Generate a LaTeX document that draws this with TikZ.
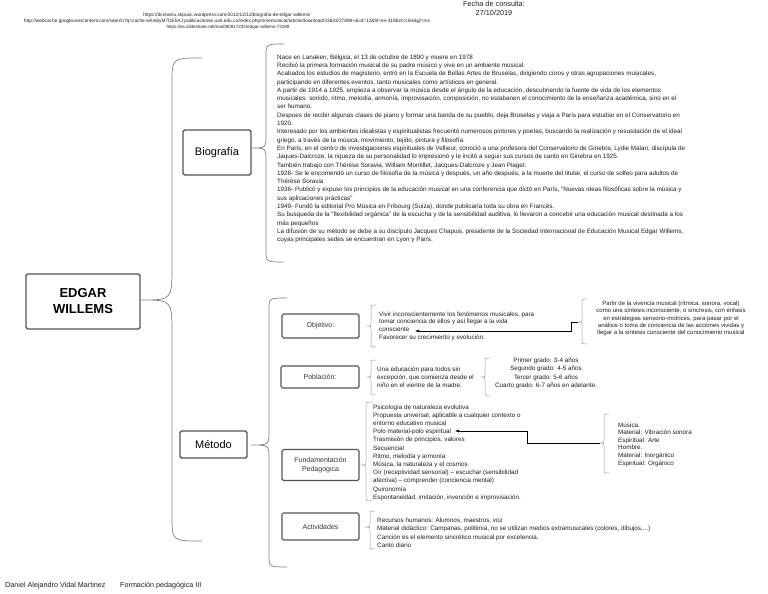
\documentclass[tikz,border=0pt]{standalone}
\usepackage{fontspec}
\setmainfont{Liberation Sans}
\usetikzlibrary{arrows.meta}
\definecolor{boxc}{HTML}{555555}
\definecolor{bracec}{HTML}{808080}
\definecolor{bracel}{HTML}{9A9A9A}
\definecolor{txt}{HTML}{1E1E1E}
\definecolor{labc}{HTML}{333333}
% #1 style, #2 x of ends, #3 y top, #4 x spine, #5 x tip, #6 y tip, #7 y bottom, #8 end radius, #9 tip radius
\newcommand{\cbrace}[9]{%
  \draw[#1] (#2,#3) .. controls (#4,#3) .. (#4,#3+#8) -- (#4,#6-#9)
    .. controls (#4,#6) .. (#5,#6) .. controls (#4,#6) .. (#4,#6+#9)
    -- (#4,#7-#8) .. controls (#4,#7) .. (#2,#7);}
\begin{document}
\begin{tikzpicture}[x=1pt,y=-1pt,
  bigbox/.style={draw=boxc,line width=1.3pt,rounded corners=1.6pt,inner sep=0pt,text=black,align=center},
  smallbox/.style={draw=boxc,line width=1.2pt,rounded corners=1.6pt,inner sep=0pt,text=labc,align=center,font=\fontsize{7}{8.4}\selectfont},
  bodytext/.style={inner sep=0pt,anchor=north west,align=left,text=txt},
  bracebig/.style={draw=bracec,line width=0.7pt},
  bracesmall/.style={draw=bracel,line width=0.5pt},
  arrowline/.style={draw=black,line width=0.5pt,-{Latex[length=4pt,width=3pt]}},
  urltext/.style={inner sep=0pt,text=txt},
]
\fill[white] (0,0) rectangle (768,594);
\useasboundingbox (0,0) rectangle (768,594);

% top references
\node[urltext] (url1) at (227,15) {\resizebox{167pt}{!}{\fontsize{4}{4}\selectfont https://dcreamu.skpuoc.wordpress.com/2012/12/12/biografia-de-edgar-willems/}};
\node[urltext] (url2) at (227,21) {\resizebox{406pt}{!}{\fontsize{4}{4}\selectfont http://webcache.googleusercontent.com/search?q=cache:wKn6lyM7DEhAJ:publicaciones.ua0.edu.co/index.php/rirnemusical/article/download/33633/27898+\&cd=12\&hl=es-419\&ct=clnk\&gl=mx}};
\node[urltext] (url3) at (228,27) {\resizebox{123pt}{!}{\fontsize{4}{4}\selectfont https://es.slideshare.net/mai090817232/edgar-willems-73189}};
\node[inner sep=0pt,anchor=north,align=center,text=txt,font=\fontsize{7.3}{9}\selectfont] (fecha) at (494,1) {Fecha de consulta:\\27/10/2019};

% main boxes
\node[bigbox,minimum width=114pt,minimum height=55pt,font=\bfseries\fontsize{13}{16}\selectfont] (ew) at (83,301.5) {EDGAR\\WILLEMS};
\node[bigbox,minimum width=68pt,minimum height=45pt,font=\fontsize{11}{13}\selectfont] (bio) at (217,152.5) {Biografía};
\node[bigbox,minimum width=67pt,minimum height=27pt,font=\fontsize{11}{13}\selectfont] (met) at (213.5,444.5) {Método};

% braces
\cbrace{bracebig}{202}{58}{172}{141}{300}{541}{25}{35}
\cbrace{bracebig}{284}{44}{266}{252}{148}{262}{12}{14}
\cbrace{bracebig}{287}{298}{269}{251}{445}{567}{12}{14}

% Biografia text
\node[bodytext,font=\fontsize{6.3}{8.3}\selectfont] (biotext) at (277,54.3) {Nace en Lanaken, Bélgica, el 13 de octubre de 1890 y muere en 1978\\
Recibió la primera formación musical de su padre músico y vive en un ambiente musical.\\
Acabados los estudios de magisterio, entró en la Escuela de Bellas Artes de Bruselas, dirigiendo coros y otras agrupaciones musicales,\\
participando en diferentes eventos, tanto musicales como artísticos en general.\\
A partir de 1914 a 1925, empieza a observar la música desde el ángulo de la educación, descubriendo la fuente de vida de los elementos\\
musicales: sonido, ritmo, melodía, armonía, improvisación, composición, no estabanen el conocimiento de la enseñanza académica, sino en el\\
ser humano.\\
Despues de recibir algunas clases de piano y formar una banda de su pueblo, deja Bruselas y viaja a París para estudiar en el Conservatorio en\\
1920.\\
Interesado por los ambientes idealistas y espiritualistas frecuentó numerosos pintores y poetas, buscando la realización y resusitación de el ideal\\
griego, a través de la música, movimiento, tejido, pintura y filosofía.\\
En París, en el centro de investigaciones espirituales de Vellieur, conoció a una profesora del Conservatorio de Ginebra, Lydie Malan, discípula de\\
Jaques-Dalcroze, la riqueza de su personalidad lo impresionó y le incitó a seguir sus cursos de canto en Ginebra en 1925.\\
También trabajo con Thérèse Soravia, William Montillet, Jacques-Dalcroze y Jean Piaget.\\
1928- Se le encomendó un curso de filosofía de la música y después, un año después, a la muerte del titular, el curso de solfeo para adultos de\\
Thérèse Soravia\\
1936- Publicó y expuso los principios de la educación musical en una conferencia que dictó en París, "Nuevas ideas filosóficas sobre la música y\\
sus aplicaciones prácticas"\\
1949- Fundó la editorial Pro Música en Fribourg (Suiza), donde publicaría toda su obra en Francés.\\
Su busqueda de la "flexibilidad orgánica" de la escucha y de la sensibilidad auditiva, lo llevaron a concebir una educación musical destinada a los\\
más pequeños\\
La difusión de su método se debe a su discípulo Jacques Chapuis, presidente de la Sociedad Internacional de Educación Musical Edgar Willems,\\
cuyas principales sedes se encuentran en Lyon y París.};

% Metodo sub boxes
\node[smallbox,minimum width=77pt,minimum height=24pt] (obj) at (320.5,326) {Objetivo:};
\node[smallbox,minimum width=78pt,minimum height=22pt] (pob) at (320,377) {Población:};
\node[smallbox,minimum width=77pt,minimum height=31pt] (fun) at (320.5,465) {Fundamentación\\Pedagogica};
\node[smallbox,minimum width=77pt,minimum height=27pt] (act) at (320.5,526.5) {Actividades};

% small braces
\cbrace{bracesmall}{376}{305}{371}{367}{326}{347}{4}{4}
\cbrace{bracesmall}{376}{360}{371}{367}{377}{395}{4}{4}
\cbrace{bracesmall}{490}{358}{485}{481}{377}{396}{4}{4}
\cbrace{bracesmall}{372}{402}{366}{361}{465}{501}{4}{5}
\cbrace{bracesmall}{375}{511}{370}{365}{527}{549}{4}{4}
\cbrace{bracesmall}{587}{299}{582}{578}{322}{344}{4}{4}
\cbrace{bracesmall}{609}{414}{604}{600}{443}{473}{4}{4}

% Objetivo texts
\node[bodytext,font=\fontsize{6.3}{7.8}\selectfont] (objtext) at (379,311.3) {Vivir inconscientemente los fenómenos musicales, para\\
tomar conciencia de ellos y así llegar a la vida\\
consciente\\
Favorecer su crecimiento y evolución.};
\node[inner sep=0pt,align=center,text=txt,font=\fontsize{6}{7.2}\selectfont] (objright) at (671,318.5) {Partir de la vivencia musical (rítmica, sonora, vocal)\\
como una síntesis inconsciente, o síncresis, con énfasis\\
en estrategias sensorio-motrices, para pasar por el\\
análisis o toma de conciencia de las acciones vividas y\\
llegar a la síntesis consciente del conocimiento musical};
\coordinate (objtip) at (578,322);
\coordinate (objarr) at (415,331);
\draw[arrowline] (objtip) -- (571,322) |- (objarr);

% Poblacion texts
\node[bodytext,font=\fontsize{6.3}{8}\selectfont] (pobtext) at (377,366.3) {Una educación para todos sin\\
excepción, que comienza desde el\\
niño en el vientre de la madre.};
\node[inner sep=0pt,align=center,text=txt,font=\fontsize{6.3}{8.3}\selectfont] (pobright) at (546,373.5) {Primer grado: 3-4 años\\
Segundo grado: 4-5 años\\
Tercer grado: 5-6 años\\
Cuarto grado: 6-7 años en adelante.};

% Fundamentacion texts
\node[bodytext,font=\fontsize{6.3}{8.2}\selectfont] (funtext) at (373,404.3) {Psicología de naturaleza evolutiva\\
Propuesta universal, aplicable a cualquier contexto o\\
entorno educativo musical\\
Polo material-polo espiritual\\
Trasmisión de principios, valores\\
Secuencial\\
Ritmo, melodía y armonía\\
Música, la naturaleza y el cosmos\\
Oír (receptividad sensorial) – escuchar (sensibilidad\\
afectiva) – comprender (conciencia mental)\\
Quironomía\\
Espontaneidad, imitación, invención e improvisación.};
\node[bodytext,font=\fontsize{6.3}{7.6}\selectfont] (funright) at (618,422.3) {Música.\\
Material: Vibración sonora\\
Espiritual: Arte\\
Hombre.\\
Material: Inorgánico\\
Espiritual: Orgánico};
\coordinate (funtip) at (600,443);
\coordinate (funarr) at (455,431);
\draw[arrowline] (funtip) -- (527,443) |- (funarr);

% Actividades texts
\node[bodytext,font=\fontsize{6.3}{8.5}\selectfont] (acttext) at (377,517.3) {Recursos humanos: Alumnos, maestros, voz\\
Material didáctico: Campanas, politimia, no se utilizan medios extramusicales (colores, dibujos,...)\\
Canción es el elemento sincrético musical por excelencia.\\
Canto diario};

% footer
\node[inner sep=0pt,anchor=west,text=txt,font=\fontsize{7.2}{8.5}\selectfont] (autor) at (5,586) {Daniel Alejandro Vidal Martinez};
\node[inner sep=0pt,anchor=west,text=txt,font=\fontsize{7.2}{8.5}\selectfont] (curso) at (120,586) {Formación pedagógica III};
\end{tikzpicture}
\end{document}
